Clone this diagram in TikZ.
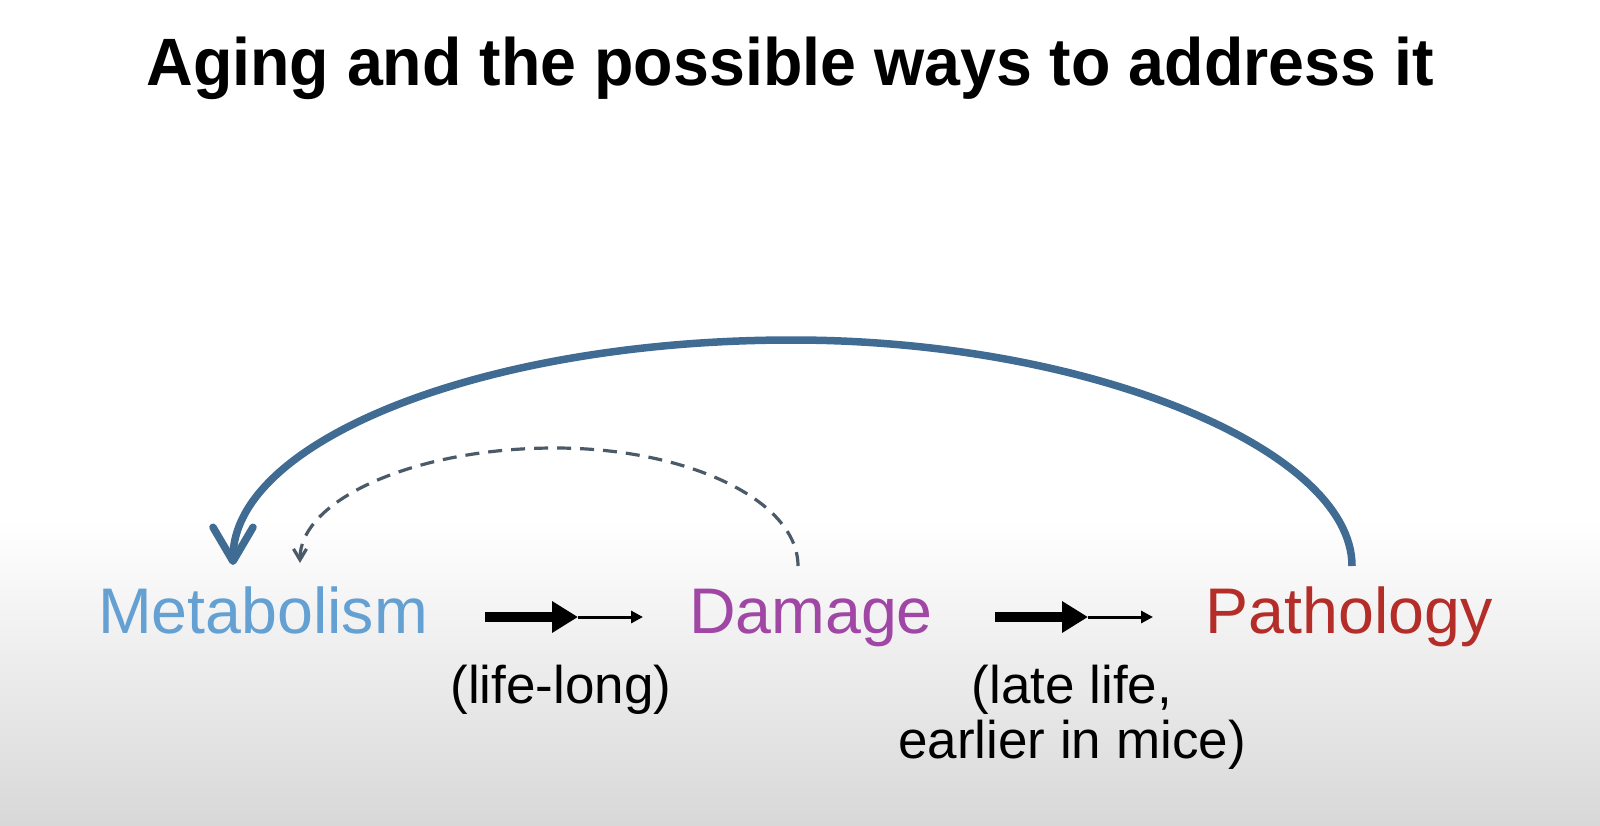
\documentclass[tikz,border=0pt]{standalone}
\usepackage{fontspec}
\setmainfont{Liberation Sans}
\usetikzlibrary{arrows.meta}
\definecolor{metc}{RGB}{100,160,210}
\definecolor{damc}{RGB}{160,70,165}
\definecolor{patc}{RGB}{180,45,40}
\definecolor{arcc}{RGB}{64,108,148}
\definecolor{dashc}{RGB}{75,90,105}
\definecolor{bgbot}{RGB}{216,216,216}
\begin{document}
\begin{tikzpicture}[x=1pt,y=-1pt,
  every node/.style={inner sep=0pt,outer sep=0pt},
  titletext/.style={font=\bfseries\fontsize{67}{67}\selectfont,text=black},
  mainlabel/.style={font=\fontsize{64.5}{64.5}\selectfont},
  sublabel/.style={font=\fontsize{53}{55}\selectfont,text=black,align=center},
  thickarr/.style={line width=10pt,draw=black,-{Triangle[length=26pt,width=30pt]}},
  thinarr/.style={line width=3pt,draw=black,-{Triangle[length=12pt,width=12pt]}},
  arcline/.style={line width=7.5pt,draw=arcc,-{Straight Barb[length=34pt,width=40pt,round]}},
  dashline/.style={line width=3.2pt,draw=dashc,dash pattern=on 14pt off 9pt,-{Straight Barb[length=11pt,width=13pt]}}
]
\useasboundingbox (0,0) rectangle (1600,825);
\fill[white] (0,0) rectangle (1600,825);
\shade[top color=white,bottom color=bgbot] (0,520) rectangle (1600,825);

\node[titletext,anchor=base] (title) at (790,85) {\scalebox{0.963}[1]{Aging and the possible ways to address it}};

\node[mainlabel,text=metc,anchor=base] (met) at (263,633) {Metabolism};
\node[mainlabel,text=damc,anchor=base] (dam) at (811,633) {Damage};
\node[mainlabel,text=patc,anchor=base] (pat) at (1349,633) {Pathology};

\node[sublabel,anchor=base] (life) at (561,703) {(life-long)};
\node[sublabel,anchor=base] (late) at (1072,758) {(late life,\\earlier in mice)};

\coordinate (a1s) at (485,617);
\coordinate (a1m) at (578,617);
\coordinate (a1e) at (643,617);
\draw[thickarr] (a1s) -- (a1m);
\draw[thinarr] (a1m) -- (a1e);

\coordinate (a2s) at (995,617);
\coordinate (a2m) at (1088,617);
\coordinate (a2e) at (1153,617);
\draw[thickarr] (a2s) -- (a2m);
\draw[thinarr] (a2m) -- (a2e);

\coordinate (arcR) at (1352,566);
\coordinate (arcTop) at (792,340);
\coordinate (arcL) at (233,565);
\draw[arcline] (arcR) .. controls (1352,450) and (1090,340) .. (arcTop)
  .. controls (483,340) and (233,441) .. (arcL);

\coordinate (dR) at (798,566);
\coordinate (dTop) at (555,448);
\coordinate (dL) at (300,563);
\draw[dashline] (dR) .. controls (798,501) and (689,448) .. (dTop)
  .. controls (414,448) and (300,500) .. (dL);
\end{tikzpicture}
\end{document}
